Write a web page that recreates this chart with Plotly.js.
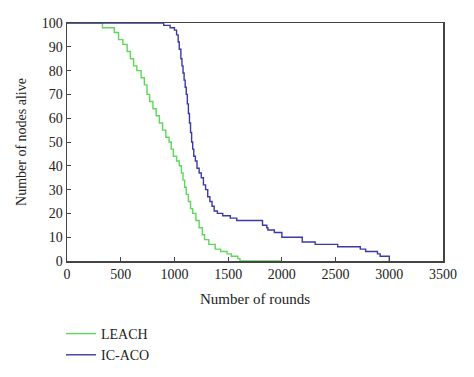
<!DOCTYPE html>
<html>
<head>
<meta charset="utf-8">
<script src="https://cdn.plot.ly/plotly-3.0.1.min.js"></script>
<style>html,body{margin:0;padding:0;background:#fff;}#chart{width:474px;height:377px;}</style>
</head>
<body>
<div id="chart"></div>
<script>
const leachRounds = [0,330,440,480,520,560,590,620,650,690,720,745,770,800,830,860,890,920,950,970,990,1020,1045,1065,1080,1095,1110,1130,1150,1170,1200,1230,1260,1280,1320,1380,1430,1490,1530,1590,1610,2000];
const leachAlive  = [100,98,96,93,91,88,85,82,80,77,74,70,67,64,61,58,55,52,50,47,44,42,40,37,34,31,28,25,22,20,17,14,11,9,7,5,4,3,2,1,0,0];
const icacoRounds = [0,900,960,1000,1020,1035,1045,1060,1070,1080,1090,1100,1110,1120,1130,1140,1150,1160,1170,1180,1195,1210,1230,1250,1270,1290,1310,1330,1350,1370,1400,1450,1520,1580,1820,1860,1870,1930,2000,2190,2310,2520,2730,2780,2890,2915,3000];
const icacoAlive  = [100,99,98,97,95,92,89,85,82,79,76,73,70,66,62,58,54,50,47,44,42,39,37,35,32,30,27,25,23,21,20,19,18,17,15,14,13,12,10,8,7,6,5,4,3,2,0];
const xTicks = [0,500,1000,1500,2000,2500,3000,3500];
const yTicks = [0,10,20,30,40,50,60,70,80,90,100];

const fam = '"Liberation Serif", "DejaVu Serif", serif';
const font = {family: fam, size: 14, color: '#222'};
const traces = [
  {x: leachRounds, y: leachAlive, name: 'LEACH', mode: 'lines', line: {color: '#5fd85a', width: 1.4, shape: 'hv'}},
  {x: icacoRounds, y: icacoAlive, name: 'IC-ACO', mode: 'lines', line: {color: '#3a3aa6', width: 1.4, shape: 'hv'}}
];
const axisCommon = {showgrid: false, zeroline: false, showline: true, mirror: true, linecolor: '#444', linewidth: 1.5,
  ticks: 'inside', ticklen: 4, tickcolor: '#444', tickfont: font, automargin: false};
const layout = {
  width: 474, height: 377,
  margin: {l: 67, r: 31, t: 23, b: 116},
  paper_bgcolor: '#fff', plot_bgcolor: '#fff',
  font: font,
  showlegend: true,
  legend: {x: -0.016, xref: 'paper', y: 1 - 318/377, yref: 'container', xanchor: 'left', yanchor: 'top',
    font: font, tracegroupgap: 0, bgcolor: 'rgba(0,0,0,0)'},
  xaxis: Object.assign({}, axisCommon, {range: [0, 3500], tickvals: xTicks, ticktext: xTicks.map(String),
    title: {text: 'Number of rounds', font: {family: fam, size: 15, color: '#222'}, standoff: 12}}),
  yaxis: Object.assign({}, axisCommon, {range: [0, 100], tickvals: yTicks, ticktext: yTicks.map(String),
    title: {text: 'Number of nodes alive', font: {family: fam, size: 14, color: '#222'}, standoff: 12}})
};
Plotly.newPlot('chart', traces, layout, {displayModeBar: false, staticPlot: true});
</script>
</body>
</html>
